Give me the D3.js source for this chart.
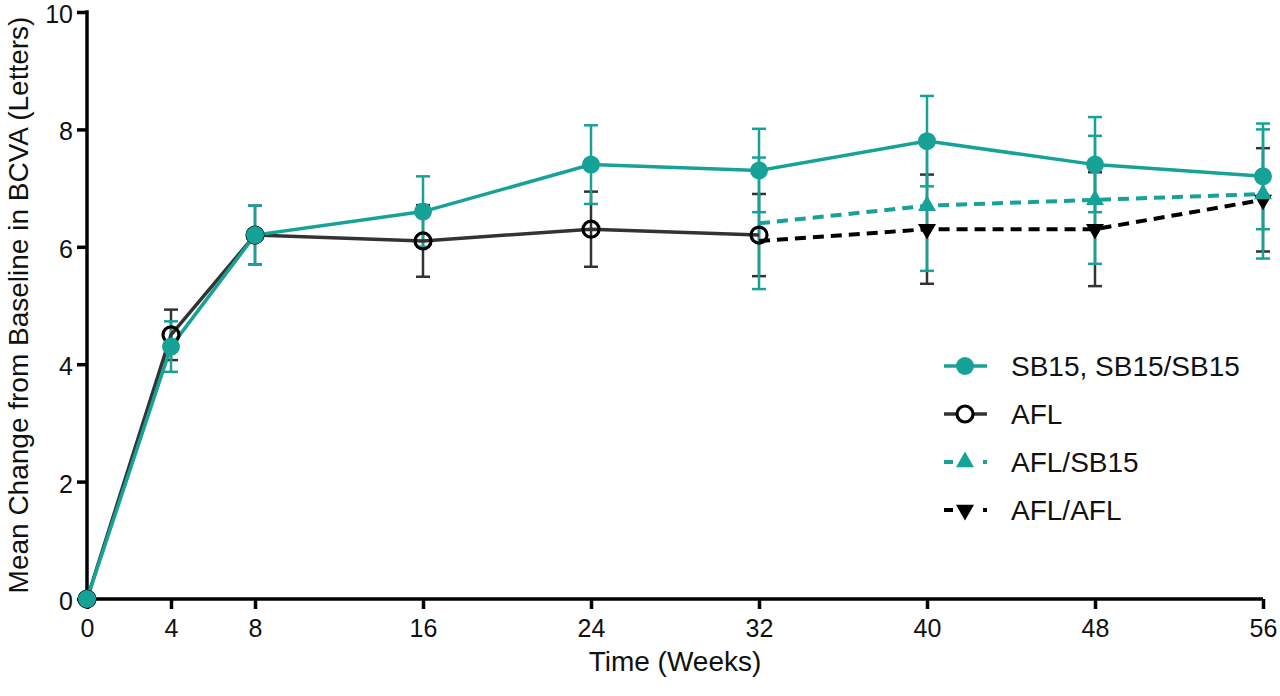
<!DOCTYPE html>
<html><head><meta charset="utf-8">
<script src="https://cdn.jsdelivr.net/npm/d3@7"></script>
<style>body{margin:0;background:#fff}svg text{font-family:"Liberation Sans",Arial,sans-serif}</style>
</head><body><svg id="c" width="1280" height="696"></svg>
<script>
const xTicks = [0,4,8,16,24,32,40,48,56];
const yTicks = [0,2,4,6,8,10];
const seriesNames = ["SB15, SB15/SB15","AFL","AFL/SB15","AFL/AFL"];
const sbWeeks = [0,4,8,16,24,32,40,48,56];
const sbMean  = [0,4.3,6.2,6.6,7.4,7.3,7.8,7.4,7.2];
const sbErr   = [0,0.43,0.5,0.6,0.67,0.71,0.77,0.81,0.9];
const aflWeeks = [0,4,8,16,24,32];
const aflMean  = [0,4.5,6.2,6.1,6.3,6.2];
const aflErr   = [0,0.43,0.5,0.61,0.64,0.7];
const aflSbWeeks = [32,40,48,56];
const aflSbMean  = [6.4,6.7,6.8,6.9];
const aflSbErr   = [1.12,1.11,1.09,1.1];
const aflAflWeeks = [32,40,48,56];
const aflAflMean  = [6.1,6.3,6.3,6.8];
const aflAflErr   = [0,0.93,0.97,0.88];

const TEAL = "#17a297", DARK = "#333333", BLACK = "#000";
const svg = d3.select("#c");
const x = d3.scaleLinear().domain([0,56]).range([87,1263]);
const y = d3.scaleLinear().domain([0,10]).range([599,12]);

// axes
const gx = svg.append("g").attr("transform","translate(0,599)")
  .call(d3.axisBottom(x).tickValues(xTicks).tickSize(10).tickPadding(10).tickFormat(d3.format("d")));
const gy = svg.append("g").attr("transform","translate(87,0)")
  .call(d3.axisLeft(y).tickValues(yTicks).tickSize(10).tickPadding(4).tickFormat(d3.format("d")));
[gx,gy].forEach(g=>{
  g.select(".domain").attr("stroke","#000").attr("stroke-width",3.5);
  g.selectAll(".tick line").attr("stroke","#000").attr("stroke-width",3.5);
  g.selectAll(".tick text").attr("fill","#111").style("font-size","25px");
});
gy.selectAll(".tick text").attr("dy","0.42em");
gy.select(".domain").attr("d","M0,599V12").attr("stroke-linecap","square");
gx.select(".domain").attr("d","M87,0H1263");

svg.append("text").attr("x",675).attr("y",671).attr("text-anchor","middle")
  .style("font-size","28px").attr("fill","#111").text("Time (Weeks)");
svg.append("text").attr("transform","translate(28,305) rotate(-90)").attr("text-anchor","middle")
  .style("font-size","28px").attr("fill","#111").text("Mean Change from Baseline in BCVA (Letters)");

function build(weeks, mean, err){ return weeks.map((w,i)=>({w,m:mean[i],e:err[i]})); }
const sb = build(sbWeeks,sbMean,sbErr);
const afl = build(aflWeeks,aflMean,aflErr);
const aflSb = build(aflSbWeeks,aflSbMean,aflSbErr);
const aflAfl = build(aflAflWeeks,aflAflMean,aflAflErr);

const line = d3.line().x(d=>x(d.w)).y(d=>y(d.m));

function errorBars(data, color, width){
  const g = svg.append("g").attr("stroke",color).attr("stroke-width",width).attr("fill","none");
  data.filter(d=>d.e>0).forEach(d=>{
    const cx = x(d.w), t = y(d.m+d.e), b = y(d.m-d.e);
    g.append("line").attr("x1",cx).attr("x2",cx).attr("y1",t).attr("y2",b);
    g.append("line").attr("x1",cx-7).attr("x2",cx+7).attr("y1",t).attr("y2",t);
    g.append("line").attr("x1",cx-7).attr("x2",cx+7).attr("y1",b).attr("y2",b);
  });
}

// error bars
errorBars(afl, DARK, 2.5);
errorBars(aflAfl, DARK, 2.5);
errorBars(aflSb, TEAL, 2.5);
errorBars(sb, TEAL, 2.5);

// lines
svg.append("path").datum(afl).attr("d",line).attr("fill","none").attr("stroke",DARK).attr("stroke-width",3.5);
svg.append("path").datum(aflAfl).attr("d",line).attr("fill","none").attr("stroke",BLACK).attr("stroke-width",4).attr("stroke-dasharray","11,7");
svg.append("path").datum(aflSb).attr("d",line).attr("fill","none").attr("stroke",TEAL).attr("stroke-width",4).attr("stroke-dasharray","11,7");
svg.append("path").datum(sb).attr("d",line).attr("fill","none").attr("stroke",TEAL).attr("stroke-width",3.5);

// markers
const tri = d3.symbol().type(d3.symbolTriangle).size(140);
function drawMarkers(data, kind){
  const g = svg.append("g");
  data.forEach(d=>{
    const cx=x(d.w), cy=y(d.m);
    if(kind==="open") g.append("circle").attr("cx",cx).attr("cy",cy).attr("r",8).attr("fill","none").attr("stroke",BLACK).attr("stroke-width",3.2);
    else if(kind==="filled") g.append("circle").attr("cx",cx).attr("cy",cy).attr("r",9).attr("fill",TEAL);
    else if(kind==="up") g.append("path").attr("d",tri).attr("transform",`translate(${cx},${cy})`).attr("fill",TEAL);
    else g.append("path").attr("d",tri).attr("transform",`translate(${cx},${cy}) rotate(180)`).attr("fill",BLACK);
  });
}
drawMarkers(aflAfl.filter(d=>d.w>32),"down");
drawMarkers(aflSb.filter(d=>d.w>32),"up");
drawMarkers(afl,"open");
drawMarkers(sb,"filled");

// legend
const legY = [366,414,462,510];
const leg = svg.append("g");
seriesNames.forEach((name,i)=>{
  const ly = legY[i];
  if(i<2){
    leg.append("line").attr("x1",944).attr("x2",987).attr("y1",ly).attr("y2",ly)
      .attr("stroke",i===0?TEAL:DARK).attr("stroke-width",3.5);
  } else {
    const col = i===2?TEAL:BLACK;
    leg.append("line").attr("x1",944).attr("x2",953).attr("y1",ly).attr("y2",ly).attr("stroke",col).attr("stroke-width",4);
    leg.append("line").attr("x1",983).attr("x2",987).attr("y1",ly).attr("y2",ly).attr("stroke",col).attr("stroke-width",4);
  }
  const mx=965;
  if(i===0) leg.append("circle").attr("cx",mx).attr("cy",ly).attr("r",9).attr("fill",TEAL);
  if(i===1) leg.append("circle").attr("cx",mx).attr("cy",ly).attr("r",8).attr("fill","#fff").attr("stroke",BLACK).attr("stroke-width",3.2);
  if(i===2) leg.append("path").attr("d",tri).attr("transform",`translate(${mx},${ly})`).attr("fill",TEAL);
  if(i===3) leg.append("path").attr("d",tri).attr("transform",`translate(${mx},${ly}) rotate(180)`).attr("fill",BLACK);
  leg.append("text").attr("x",1011).attr("y",ly).attr("dy","0.36em").style("font-size","28px").attr("fill","#111").text(name);
});
</script></body></html>
